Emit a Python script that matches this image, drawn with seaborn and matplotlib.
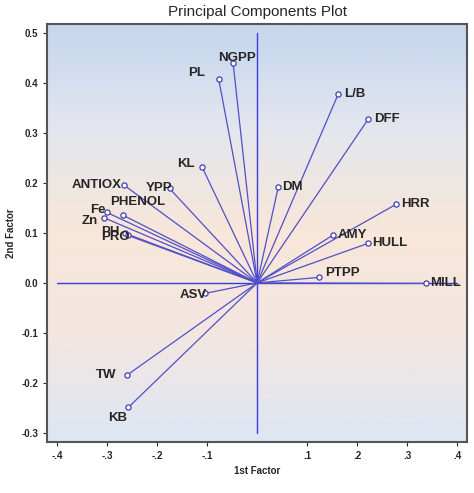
import numpy as np
import pandas as pd
import seaborn as sns
import matplotlib.pyplot as plt
from matplotlib.colors import LinearSegmentedColormap

# Loadings
variables = ['PL', 'NGPP', 'L/B', 'DFF', 'KL', 'ANTIOX', 'YPP', 'DM', 'PHENOL', 'Fe', 'Zn',
             'PH', 'PRO', 'HRR', 'AMY', 'HULL', 'PTPP', 'MILL', 'ASV', 'TW', 'KB']
factor1 = [-0.077, -0.048, 0.162, 0.222, -0.110, -0.265, -0.175, 0.042, -0.267, -0.300, -0.305,
           -0.263, -0.258, 0.277, 0.152, 0.221, 0.124, 0.337, -0.104, -0.259, -0.257]
factor2 = [0.409, 0.440, 0.378, 0.328, 0.232, 0.195, 0.189, 0.191, 0.135, 0.141, 0.130,
           0.099, 0.095, 0.157, 0.096, 0.079, 0.011, -0.001, -0.021, -0.184, -0.249]
df = pd.DataFrame({'var': variables, 'f1': factor1, 'f2': factor2})

# label placement (offset in points, horizontal alignment)
label_pos = {
    'PL': (-10, 4, 'right'), 'NGPP': (3, 4, 'center'), 'L/B': (4, 0, 'left'),
    'DFF': (4, 0, 'left'), 'KL': (-5, 2, 'right'), 'ANTIOX': (-2, 0, 'right'),
    'YPP': (2, 0, 'right'), 'DM': (3, 0, 'left'), 'PHENOL': (10, 10, 'center'),
    'Fe': (-1, 2, 'right'), 'Zn': (-5, -2, 'right'), 'PH': (-4, 1, 'right'),
    'PRO': (1, -1, 'right'), 'HRR': (4, 0, 'left'), 'AMY': (3, 0, 'left'),
    'HULL': (3, 0, 'left'), 'PTPP': (4, 3, 'left'), 'MILL': (3, 0, 'left'),
    'ASV': (1, -1, 'right'), 'TW': (-8, 0, 'right'), 'KB': (-1, -8, 'right'),
}

sns.set_style('white')
plt.rcParams['font.family'] = ['Liberation Sans', 'DejaVu Sans']
fig, ax = plt.subplots(figsize=(4.74, 4.93), dpi=100)
fig.subplots_adjust(left=0.1, right=0.985, top=0.951, bottom=0.104)

xlim = (-0.419, 0.419)
ylim = (-0.318, 0.518)
cmap = LinearSegmentedColormap.from_list('bg', ['#c4d6ee', '#e4e6ee', '#f8e7d9', '#f3e6e2', '#dde6f4'])
grad = np.linspace(0, 1, 256).reshape(-1, 1)
ax.imshow(grad, cmap=cmap, aspect='auto', origin='upper',
          extent=(xlim[0], xlim[1], ylim[0], ylim[1]), zorder=0)

ax.plot([-0.4, 0.4], [0, 0], color='#3a3ae0', lw=1, zorder=1)
ax.plot([0, 0], [-0.3, 0.5], color='#3a3ae0', lw=1, zorder=1)
for _, r in df.iterrows():
    ax.plot([0, r.f1], [0, r.f2], color='#5050c8', lw=0.9, zorder=2)
sns.scatterplot(data=df, x='f1', y='f2', ax=ax, s=14, facecolor='white',
                edgecolor='#4040b0', linewidth=0.9, zorder=3, legend=False)
for _, r in df.iterrows():
    dx, dy, ha = label_pos[r['var']]
    ax.annotate(r['var'], (r.f1, r.f2), xytext=(dx, dy), textcoords='offset points',
                ha=ha, va='center', fontsize=9.5, fontweight='bold', zorder=4)

ax.set_xlim(xlim)
ax.set_ylim(ylim)
ax.set_xticks([-0.4, -0.3, -0.2, -0.1, 0.1, 0.2, 0.3, 0.4])
ax.set_xticklabels(['-.4', '-.3', '-.2', '-.1', '.1', '.2', '.3', '.4'], fontsize=7, fontweight='bold')
yt = [-0.3, -0.2, -0.1, 0.0, 0.1, 0.2, 0.3, 0.4, 0.5]
ax.set_yticks(yt)
ax.set_yticklabels([f'{v:.1f}' for v in yt], fontsize=7, fontweight='bold')
ax.tick_params(length=3, width=0.8, direction='out', left=True, bottom=True)
for s in ax.spines.values():
    s.set_color('#555555')
    s.set_linewidth(1.5)
ax.set_xlabel('1st Factor', fontsize=7, fontweight='bold')
ax.set_ylabel('2nd Factor', fontsize=7, fontweight='bold')
ax.set_title('Principal Components Plot', fontsize=11)
fig.savefig('out.png', dpi=100)
